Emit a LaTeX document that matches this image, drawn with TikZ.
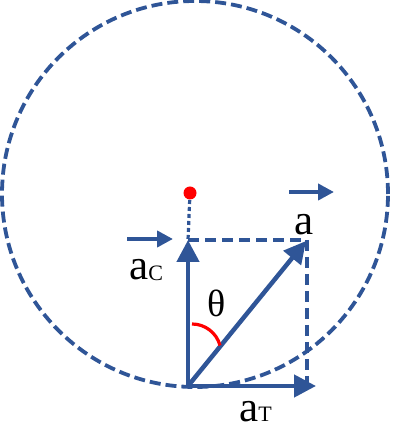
\documentclass[tikz,border=0pt]{standalone}
\usepackage{fontspec}
\setmainfont{Liberation Serif}
\usepackage{tikz}
\usetikzlibrary{positioning,arrows.meta}
\definecolor{vecblue}{RGB}{47,85,151}
\newcommand{\subv}[1]{\raisebox{-1pt}{\fontsize{22}{22}\selectfont #1}}

\begin{document}
\begin{tikzpicture}[x=1pt, y=1pt,
    vec/.style={draw=vecblue, line width=4.5pt, -{Triangle[length=22pt,width=22pt]}},
    small_vec/.style={draw=vecblue, line width=4.2pt, -{Triangle[length=16pt,width=16pt]}},
    guide/.style={draw=vecblue, line width=3.6pt, dash pattern=on 11pt off 6pt},
    lbl/.style={font=\fontsize{43}{43}\selectfont, inner sep=0pt}]
\useasboundingbox (0,0) rectangle (400,444);
%% Points definition
\coordinate (center) at (195,250);
\coordinate (origin) at (188,58);
\coordinate (tip_c) at (188,204);
\coordinate (tip_t) at (316,58);
\coordinate (tip_a) at (306,203);
\coordinate (corner) at (307,204);
\coordinate (corner_low) at (307,58);
\coordinate (dot) at (190,251);
\coordinate (l_start) at (127,205);
\coordinate (l_end) at (173,205);
\coordinate (r_start) at (289,252);
\coordinate (r_end) at (334,252);

%% Path circle and projections
\draw[draw=vecblue, line width=3.8pt, dash pattern=on 11pt off 5pt] (center) circle[radius=193];
\draw[guide] (tip_c) -- (corner) -- (corner_low);
\draw[draw=vecblue, line width=3.2pt, dash pattern=on 4pt off 3pt] (dot) -- (tip_c);

%% Vectors
\draw[vec] (origin) -- (tip_c);
\draw[vec] (origin) -- (tip_t);
\draw[vec] (origin) -- (tip_a);
\draw[small_vec] (l_start) -- (l_end);
\draw[small_vec] (r_start) -- (r_end);
\draw[red, line width=3.2pt] (192,120) arc[start angle=90, end angle=15, radius=29];
\fill[red] (dot) circle[radius=6.5];

%% Labels
\node[lbl, anchor=base] (a_lbl) at (304,209) {a};
\node[lbl, anchor=base west] (ac_lbl) at (129,164) {a\subv{C}};
\node[lbl, anchor=base west] (at_lbl) at (239,23) {a\subv{T}};
\node[lbl, font=\fontsize{38}{38}\selectfont, anchor=base] (theta_lbl) at (217,127) {θ};
\end{tikzpicture}
\end{document}
